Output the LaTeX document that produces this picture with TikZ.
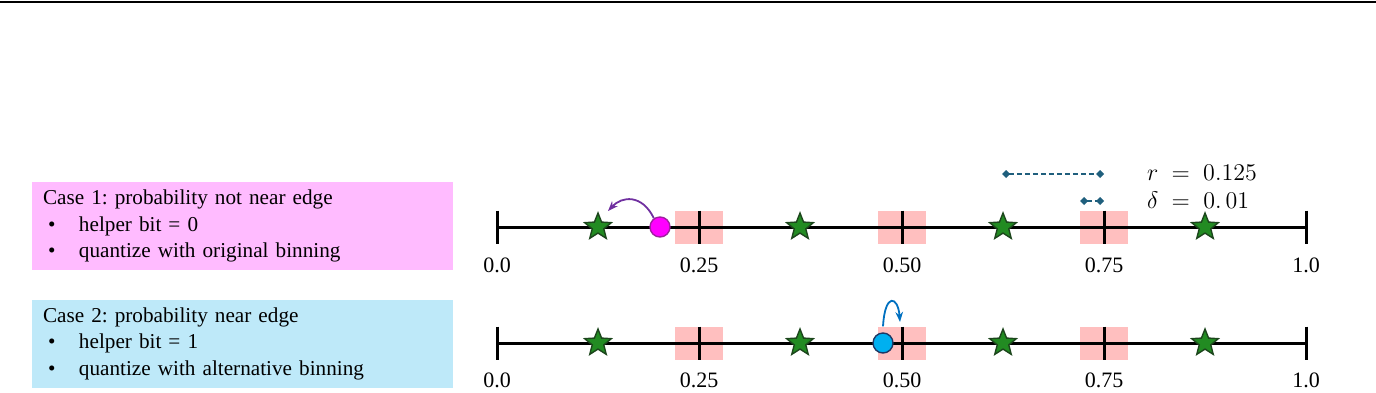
\documentclass[tikz,border=0pt]{standalone}
\usepackage{fontspec}
\setmainfont{Liberation Serif}
\usepackage{xcolor}
\usepackage{tikz}
\usetikzlibrary{arrows.meta, positioning, shapes.geometric}
\definecolor{rosa}{RGB}{255,187,255}
\definecolor{cielo}{RGB}{190,233,249}
\definecolor{salmon}{RGB}{255,191,191}
\definecolor{verde}{RGB}{34,139,34}
\definecolor{bosque}{RGB}{28,70,28}
\definecolor{morado}{RGB}{112,48,160}
\definecolor{fucsia}{RGB}{255,0,255}
\definecolor{fucsiaosc}{RGB}{160,30,160}
\definecolor{celeste}{RGB}{0,176,240}
\definecolor{marino}{RGB}{31,56,100}
\definecolor{azulrey}{RGB}{0,112,192}
\definecolor{petroleo}{RGB}{31,95,125}
\frenchspacing

\begin{document}
\begin{tikzpicture}[
        x=0.5pt, y=-0.5pt,
        caja/.style={rectangle, text width=199.5pt, minimum height=44pt, inner xsep=5.5pt, align=left, font=\fontsize{10.6}{13.25}\selectfont},
        eje/.style={line width=1.5pt},
        zona/.style={rectangle, fill=salmon, minimum width=24pt, minimum height=16.5pt, inner sep=0pt},
        estrella/.style={star, star points=5, star point ratio=2.3, fill=verde, draw=bosque, line width=0.7pt, minimum size=14pt, inner sep=0pt},
        punto/.style={circle, minimum size=10pt, inner sep=0pt, line width=0.7pt},
        etiqueta/.style={font=\fontsize{11}{13}\selectfont, inner sep=0pt},
        rango/.style={petroleo, dash pattern=on 2.5pt off 1.5pt, line width=0.8pt, {Turned Square[length=4pt,width=4pt]}-{Turned Square[length=4pt,width=4pt]}},
        arrow/.style={-{Stealth[length=5pt]}, line width=0.9pt}
    ]
        \useasboundingbox (0,0) rectangle (1376,392);
        \draw[line width=1pt] (0,1.5) -- (1376,1.5);

        \newcommand{\vi}{\makebox[15.5pt][l]{\textbullet}}
        \node[caja, fill=rosa] (case1) at (242.5,226) {Case 1: probability not near edge\\\hspace*{2.5pt}\vi helper bit = 0\\\hspace*{2.5pt}\vi quantize with original binning};
        \node[caja, fill=cielo] (case2) at (242.5,343.5) {Case 2: probability near edge\\\hspace*{2.5pt}\vi helper bit = 1\\\hspace*{2.5pt}\vi quantize with alternative binning};

        % eje superior
        \coordinate (a1-0) at (497,227);
        \coordinate (a1-1) at (699,227);
        \coordinate (a1-2) at (902,227);
        \coordinate (a1-3) at (1104,227);
        \coordinate (a1-4) at (1306,227);
        \node[zona] (z1-1) at (a1-1) {};
        \node[zona] (z1-2) at (a1-2) {};
        \node[zona] (z1-3) at (a1-3) {};
        \draw[eje] (a1-0) -- (a1-4);
        \draw[eje] ([yshift=8.25pt]a1-0) -- ([yshift=-8.25pt]a1-0);
        \draw[eje] ([yshift=8.25pt]a1-1) -- ([yshift=-8.25pt]a1-1);
        \draw[eje] ([yshift=8.25pt]a1-2) -- ([yshift=-8.25pt]a1-2);
        \draw[eje] ([yshift=8.25pt]a1-3) -- ([yshift=-8.25pt]a1-3);
        \draw[eje] ([yshift=8.25pt]a1-4) -- ([yshift=-8.25pt]a1-4);
        \node[estrella] (s1-1) at (598,227) {};
        \node[estrella] (s1-2) at (800,227) {};
        \node[estrella] (s1-3) at (1003,227) {};
        \node[estrella] (s1-4) at (1205,227) {};
        \node[etiqueta] (l1-0) at (497,265) {0.0};
        \node[etiqueta] (l1-1) at (699,265) {0.25};
        \node[etiqueta] (l1-2) at (902,265) {0.50};
        \node[etiqueta] (l1-3) at (1104,265) {0.75};
        \node[etiqueta] (l1-4) at (1306,265) {1.0};
        \node[punto, fill=fucsia, draw=fucsiaosc] (dot1) at (660,227) {};
        \coordinate (tip1) at (608,211);
        \draw[arrow, morado] (dot1.125) .. controls (642,194) and (622,196) .. (tip1);

        % eje inferior
        \coordinate (a2-0) at (497,343);
        \coordinate (a2-1) at (699,343);
        \coordinate (a2-2) at (902,343);
        \coordinate (a2-3) at (1104,343);
        \coordinate (a2-4) at (1306,343);
        \node[zona] (z2-1) at (a2-1) {};
        \node[zona] (z2-2) at (a2-2) {};
        \node[zona] (z2-3) at (a2-3) {};
        \draw[eje] (a2-0) -- (a2-4);
        \draw[eje] ([yshift=8.25pt]a2-0) -- ([yshift=-8.25pt]a2-0);
        \draw[eje] ([yshift=8.25pt]a2-1) -- ([yshift=-8.25pt]a2-1);
        \draw[eje] ([yshift=8.25pt]a2-2) -- ([yshift=-8.25pt]a2-2);
        \draw[eje] ([yshift=8.25pt]a2-3) -- ([yshift=-8.25pt]a2-3);
        \draw[eje] ([yshift=8.25pt]a2-4) -- ([yshift=-8.25pt]a2-4);
        \node[estrella] (s2-1) at (598,343) {};
        \node[estrella] (s2-2) at (800,343) {};
        \node[estrella] (s2-3) at (1003,343) {};
        \node[estrella] (s2-4) at (1205,343) {};
        \node[etiqueta] (l2-0) at (497,380) {0.0};
        \node[etiqueta] (l2-1) at (699,380) {0.25};
        \node[etiqueta] (l2-2) at (902,380) {0.50};
        \node[etiqueta] (l2-3) at (1104,380) {0.75};
        \node[etiqueta] (l2-4) at (1306,380) {1.0};
        \node[punto, fill=celeste, draw=marino] (dot2) at (883,343) {};
        \coordinate (tip2) at (900,322);
        \draw[arrow, azulrey] ([yshift=3pt]dot2.north) .. controls (885,292) and (898,296) .. (tip2);

        % r y delta
        \coordinate (r0) at (1002,174);
        \coordinate (r1) at (1104,174);
        \coordinate (d0) at (1080,201);
        \coordinate (d1) at (1104,201);
        \draw[rango] (r0) -- (r1);
        \draw[rango] (d0) -- (d1);
        \node[anchor=west, font=\large] (rval) at (1140,173) {$r\;=\;0.125$};
        \node[anchor=west, font=\large] (dval) at (1140,200) {$\delta\;=\;0.\,01$};
    \end{tikzpicture}
\end{document}
